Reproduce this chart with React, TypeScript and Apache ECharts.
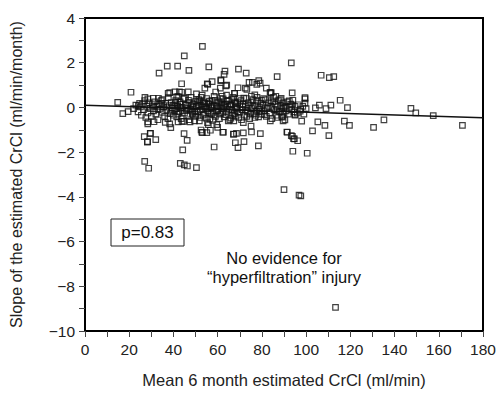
import React, { useEffect, useRef } from "react";
import * as echarts from "echarts";

// Scatter points: [mean 6-month estimated CrCl, slope of estimated CrCl]
const outlierPoints: number[][] = [
  [53.1, 2.73], [44.9, 2.31], [37.2, 1.85], [41.9, 1.85], [47.0, 1.66], [33.5, 1.53],
  [56.0, 1.81], [63.3, 1.62], [62.9, 1.48], [69.4, 1.71], [72.9, 1.53], [93.3, 1.99],
  [86.9, 1.38], [43.7, 1.06], [20.8, 0.68], [14.8, 0.23], [17.1, -0.28], [19.5, -0.19],
  [26.8, -1.31], [29.6, -1.16], [28.3, -1.53], [32.0, -1.44], [27.0, -2.41], [28.8, -2.72],
  [43.1, -2.5], [44.9, -2.57], [46.3, -2.62], [50.4, -2.69], [44.8, -1.17], [46.2, -1.47],
  [44.2, -1.9], [58.4, -1.77], [52.5, -1.01], [53.1, -1.13], [56.7, -1.02], [62.6, -1.11],
  [67.3, -1.2], [68.5, -1.16], [71.6, -1.14], [68.0, -1.58], [69.2, -1.8], [71.9, -1.53],
  [75.3, -1.1], [79.3, -1.17], [78.4, -1.72], [75.1, -0.84], [94.0, -1.96], [90.0, -3.68],
  [96.8, -3.92], [91.3, -1.1], [93.8, -1.29], [96.2, -1.49], [93.7, 0.65], [89.3, -0.44],
  [90.4, -0.56], [75.7, 1.12], [77.7, 1.03], [79.2, 1.09], [78.6, 1.2], [73.2, 0.81],
  [69.2, 0.88], [82.0, 0.86], [84.0, 0.63], [55.3, 1.06], [57.5, 1.15], [61.5, 1.23],
  [64.1, 1.0], [54.2, 0.86], [50.4, 0.61], [37.6, 0.63], [42.7, 0.7], [46.7, 0.7],
  [61.2, 0.86], [67.6, 0.63], [106.8, 1.44], [110.5, 1.33], [112.5, 1.38], [99.5, 0.38],
  [99.5, 0.19], [99.5, 0.44], [106.0, 0.1], [104.2, -0.02], [109.0, -0.05], [111.2, 0.1],
  [115.4, 0.32], [118.7, -0.01], [147.4, -0.04], [149.6, -0.24], [157.5, -0.37], [170.7, -0.8],
  [135.2, -0.56], [130.5, -0.89], [117.3, -0.61], [119.6, -0.8], [108.5, -0.8], [105.3, -0.65],
  [102.9, -1.05], [110.3, -1.26], [98.0, -0.61], [100.5, -2.05], [94.3, -1.4], [91.5, -1.11],
  [93.5, 0.11], [95.0, -0.34], [97.3, -0.17], [92.4, 0.29], [88.7, 0.41], [84.2, 0.66],
  [113.3, -8.94], [28.4, -0.65], [28.4, -0.74], [31.2, -0.64], [36.3, -0.67], [38.3, -0.74],
  [38.8, -0.9], [42.1, -0.65], [43.9, -0.62], [47.5, -0.65], [29.5, -1.16], [28.2, -1.55],
  [67.1, -1.19], [52.8, -1.11], [55.1, -1.13], [62.3, -1.11], [60.0, -0.89], [55.8, -0.77],
  [59.6, -0.77], [71.6, -0.68], [93.3, -1.26], [94.7, -1.41], [97.6, -3.96], [27.1, 0.45],
  [24.7, 0.18], [24.1, 0.08], [28.4, 0.38], [30.9, 0.41], [33.2, 0.41], [38.3, 0.66],
  [40.7, 0.7], [43.7, 0.68], [37.7, 0.44], [41.5, 0.48], [34.7, 0.18], [55.5, 1.03],
  [61.4, 1.2], [63.7, 0.96], [74.2, 1.12], [72.5, 0.86], [83.7, 0.68], [86.3, 0.5],
  [67.7, 0.63], [76.8, 0.56], [59.1, 0.69], [95.0, -0.31], [89.0, -0.41], [89.6, -0.6],
];

const bandPoints: number[][] = [
  [22, -0.05], [23, 0.1], [24, -0.2], [25, 0.02], [25.5, -0.35], [26, 0.15], [26.5, -0.1],
  [27, 0.3], [27.5, -0.45], [28, 0.05], [28.5, -0.25], [29, 0.2], [29.5, -0.05], [30, -0.4],
  [30.5, 0.12], [31, -0.15], [31.5, 0.25], [32, -0.3], [32.5, 0.05], [33, -0.55], [33.5, 0.15],
  [34, -0.08], [34.5, 0.3], [35, -0.22], [35.5, 0.02], [36, -0.4], [36.5, 0.18], [37, -0.12],
  [37.5, -0.5], [38, 0.08], [38.5, -0.28], [39, 0.22], [39.5, -0.02], [40, -0.35], [40, 0.1],
  [31, 0.05], [33, -0.1], [35, 0.35], [37, 0.02], [39, -0.18],
  [40.5, -0.15], [41, 0.3], [41.5, -0.42], [42, 0.05], [42.5, -0.2], [43, 0.15], [43.5, -0.5],
  [44, 0.0], [44.5, 0.38], [45, -0.25], [45.5, 0.1], [46, -0.05], [46.5, -0.38], [47, 0.22],
  [47.5, -0.12], [48, 0.45], [48.5, -0.3], [49, 0.02], [49.5, -0.18], [50, 0.28], [41, -0.05],
  [42, -0.3], [43, 0.25], [44, -0.15], [45, 0.42], [46, 0.12], [47, -0.55], [48, -0.08],
  [49, 0.15], [50, -0.4], [40.8, 0.2], [42.3, 0.48], [44.7, -0.62], [46.8, 0.32], [48.7, -0.22],
  [43.2, -0.02], [45.8, -0.12], [47.8, 0.08], [49.6, -0.6], [41.7, 0.12],
  [50.5, 0.05], [51, -0.2], [51.5, 0.35], [52, -0.45], [52.5, 0.1], [53, -0.08], [53.5, 0.25],
  [54, -0.3], [54.5, 0.0], [55, 0.4], [55.5, -0.15], [56, 0.15], [56.5, -0.52], [57, -0.02],
  [57.5, 0.3], [58, -0.25], [58.5, 0.08], [59, -0.4], [59.5, 0.2], [60, -0.1], [50.8, 0.22],
  [51.7, -0.6], [52.6, 0.45], [53.4, -0.35], [54.2, 0.18], [55.1, -0.05], [56.3, 0.28],
  [57.2, -0.3], [58.4, 0.5], [59.3, -0.18], [50.2, -0.3], [51.2, 0.12], [52.1, -0.12],
  [53.8, 0.05], [54.8, -0.48], [55.7, 0.2], [56.9, 0.02], [57.8, -0.58], [58.9, 0.32],
  [59.8, 0.05], [53, 0.55], [55.4, -0.68], [57.6, 0.12], [51.9, 0.28], [56.1, -0.22],
  [60.5, 0.25], [61, -0.3], [61.5, 0.08], [62, -0.05], [62.5, 0.38], [63, -0.42], [63.5, 0.15],
  [64, -0.18], [64.5, 0.02], [65, 0.3], [65.5, -0.55], [66, 0.1], [66.5, -0.12], [67, 0.45],
  [67.5, -0.28], [68, 0.05], [68.5, -0.08], [69, 0.22], [69.5, -0.45], [70, 0.12], [60.2, -0.15],
  [61.2, 0.4], [62.3, -0.25], [63.1, 0.02], [64.3, 0.28], [65.2, -0.08], [66.4, 0.35],
  [67.3, -0.6], [68.2, 0.18], [69.1, -0.2], [60.8, -0.5], [61.8, 0.2], [62.7, 0.1], [63.8, -0.32],
  [64.8, -0.6], [65.8, 0.15], [66.8, -0.35], [67.8, 0.25], [68.8, -0.02], [69.8, 0.4], [62, 0.5],
  [64, 0.55], [66, -0.48], [68, -0.4], [70, -0.22],
  [70.5, 0.3], [71, -0.1], [71.5, 0.15], [72, -0.35], [72.5, 0.05], [73, 0.4], [73.5, -0.2],
  [74, 0.1], [74.5, -0.5], [75, 0.22], [75.5, -0.05], [76, 0.35], [76.5, -0.28], [77, 0.08],
  [77.5, -0.15], [78, 0.28], [78.5, -0.42], [79, 0.0], [79.5, 0.18], [80, -0.3], [70.8, -0.55],
  [71.8, 0.42], [72.8, -0.12], [73.8, 0.2], [74.8, -0.3], [75.8, 0.05], [76.8, -0.45],
  [77.8, 0.45], [78.8, -0.08], [79.8, 0.32], [71.3, 0.02], [73.2, -0.4], [75.2, 0.5],
  [77.2, -0.35], [79.2, -0.18],
  [80.5, 0.1], [81, -0.15], [81.5, 0.35], [82, -0.4], [82.5, 0.02], [83, 0.2], [83.5, -0.25],
  [84, 0.05], [84.5, -0.5], [85, 0.25], [85.5, -0.1], [86, 0.15], [86.5, -0.35], [87, 0.02],
  [87.5, 0.3], [88, -0.2], [88.5, 0.08], [89, -0.05], [89.5, 0.2], [90, -0.25], [80.8, 0.4],
  [82.3, -0.05], [83.8, -0.6], [85.3, 0.45], [86.8, -0.15], [88.3, 0.35], [89.8, 0.0],
  [81.3, -0.32], [84.2, 0.3], [87.2, -0.45],
  [90.5, 0.05], [91, -0.15], [91.5, 0.25], [92, -0.3], [92.5, 0.0], [93, 0.15], [93.5, -0.1],
  [94, 0.32], [94.5, -0.2], [95, 0.05], [96, -0.25], [96.5, 0.12], [97.5, -0.08], [98.5, 0.05],
  [99, -0.3], [100, -0.05],
];

// Regression line end points
const regX = [0, 180];
const regY = [0.1, -0.46];

const xTicks = { min: 0, max: 180, step: 10, labelEvery: 20 };
const yTicks = { min: -10, max: 4, step: 1, labelEvery: 2 };

const xTitle = "Mean 6 month estimated CrCl (ml/min)";
const yTitle = "Slope of the estimated CrCl (ml/min/month)";
const pText = "p=0.83";
const noteLines = ["No evidence for", "\u201chyperfiltration\u201d injury"];

const FONT = "'Liberation Sans', Arial, Helvetica, sans-serif";

export default function App() {
  const ref = useRef<HTMLDivElement>(null);
  useEffect(() => {
    document.body.style.margin = "0";
    const chart = echarts.init(ref.current!, null, { renderer: "svg" });
    const fmt = (every: number) => (v: number) =>
      Math.abs(v % every) < 1e-9 ? String(v).replace("-", "\u2212") : "";
    chart.setOption({
      animation: false,
      backgroundColor: "#fff",
      textStyle: { fontFamily: FONT },
      grid: {
        left: 85, right: 17, top: 18, bottom: 64,
        show: true, borderColor: "#000", borderWidth: 2, backgroundColor: "transparent",
      },
      xAxis: {
        type: "value",
        min: xTicks.min, max: xTicks.max, interval: xTicks.step,
        splitLine: { show: false },
        axisLine: { show: true, onZero: false, lineStyle: { color: "#000", width: 2 } },
        axisTick: { show: true, length: 6, lineStyle: { color: "#444", width: 1 } },
        axisLabel: {
          formatter: fmt(xTicks.labelEvery), color: "#222", fontSize: 15.5, margin: 10,
          fontFamily: FONT, showMinLabel: true, showMaxLabel: true,
        },
        name: xTitle, nameLocation: "middle", nameGap: 40,
        nameTextStyle: { color: "#222", fontSize: 16.5, fontFamily: FONT },
      },
      yAxis: {
        type: "value",
        min: yTicks.min, max: yTicks.max, interval: yTicks.step,
        splitLine: { show: false },
        axisLine: { show: true, onZero: false, lineStyle: { color: "#000", width: 2 } },
        axisTick: { show: true, length: 6, lineStyle: { color: "#444", width: 1 } },
        axisLabel: {
          formatter: fmt(yTicks.labelEvery), color: "#222", fontSize: 15.5, margin: 10,
          fontFamily: FONT, showMinLabel: true, showMaxLabel: true,
        },
        name: yTitle, nameLocation: "middle", nameGap: 61,
        nameTextStyle: { color: "#222", fontSize: 16, fontFamily: FONT },
      },
      series: [
        {
          type: "line",
          data: regX.map((x, i) => [x, regY[i]]),
          showSymbol: false,
          lineStyle: { color: "#111", width: 1.5 },
          z: 1,
        },
        {
          type: "scatter",
          data: [...bandPoints, ...outlierPoints],
          symbol: "rect",
          symbolSize: 5.5,
          itemStyle: { color: "rgba(255,255,255,0)", borderColor: "#111", borderWidth: 1.2 },
          z: 2,
        },
      ],
      graphic: [
        {
          type: "rect",
          shape: { x: 111, y: 219, width: 73, height: 27 },
          style: { fill: "#fff", stroke: "#222", lineWidth: 1 },
        },
        {
          type: "text",
          x: 147.5, y: 232.5,
          style: {
            text: pText, fill: "#111", font: `17px ${FONT}`,
            textAlign: "center", textVerticalAlign: "middle",
          },
        },
        {
          type: "text",
          x: 284, y: 267,
          style: {
            text: noteLines.join("\n"), fill: "#111", font: `16.5px ${FONT}`,
            textAlign: "center", textVerticalAlign: "middle", lineHeight: 19,
          },
        },
      ],
    });
    return () => chart.dispose();
  }, []);
  return <div ref={ref} style={{ width: 500, height: 395 }} />;
}
